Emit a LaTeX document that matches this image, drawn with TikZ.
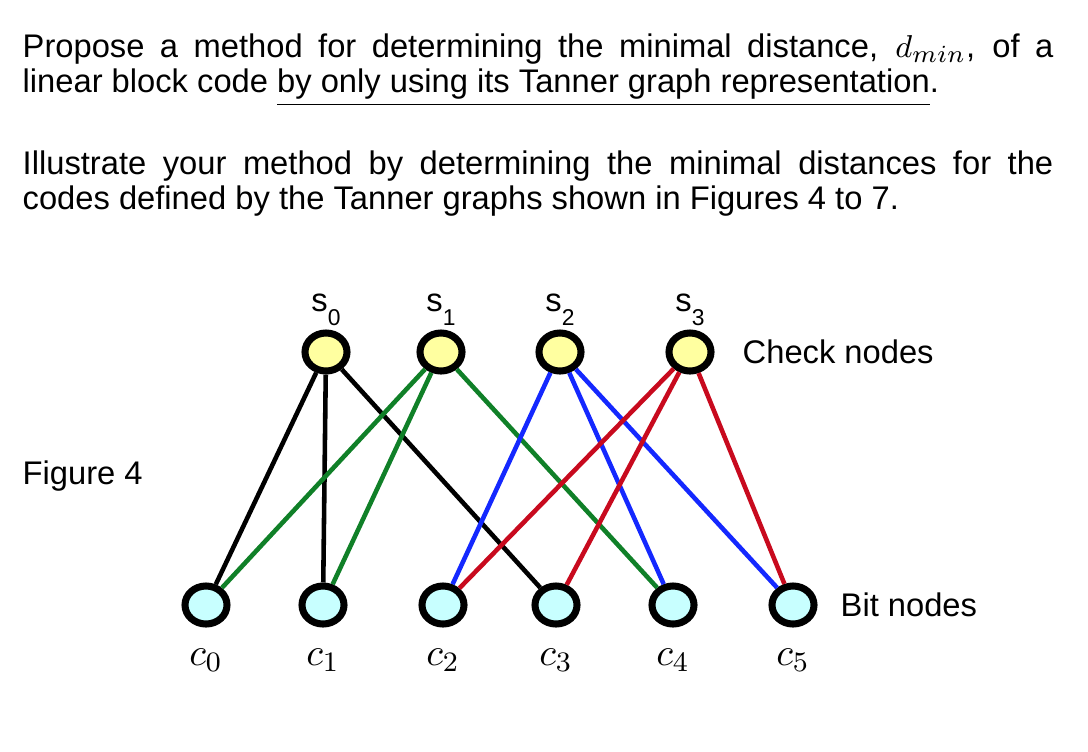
\documentclass[tikz,border=0pt]{standalone}
\usepackage{fontspec}
\setmainfont{Liberation Sans}
\definecolor{chkfill}{RGB}{255,255,160}
\definecolor{bitfill}{RGB}{200,255,255}
\definecolor{egreen}{RGB}{16,128,40}
\definecolor{eblue}{RGB}{20,40,255}
\definecolor{ered}{RGB}{200,10,30}
\usetikzlibrary{shapes.geometric}
\tikzset{
  chk/.style={ellipse, draw, line width=2pt, fill=chkfill, minimum width=0.42cm, minimum height=0.38cm, inner sep=0pt},
  bit/.style={ellipse, draw, line width=2pt, fill=bitfill, minimum width=0.42cm, minimum height=0.38cm, inner sep=0pt},
  edge/.style={line width=1.3pt},
  txt/.style={font=\fontsize{9.3}{10}\selectfont, inner sep=0pt}
}
\begin{document}
\begin{tikzpicture}[x=0.01cm,y=-0.01cm]
    \useasboundingbox (0,0) rectangle (1088,751);
    \node[txt, anchor=north west, align=left] (q1) at (22,33)
      {\makebox[10.3cm][s]{Propose a method for determining the minimal distance, $d_{min}$, of a}\\
       linear block code \underline{by only using its Tanner graph representation}.};
    \node[txt, anchor=north west, align=left] (q2) at (22,150)
      {\makebox[10.3cm][s]{Illustrate your method by determining the minimal distances for the}\\
       codes defined by the Tanner graphs shown in Figures 4 to 7.};
    \node[txt, anchor=west] (fig) at (22,476) {Figure 4};

    % check nodes
    \foreach \i/\x in {0/326,1/441,2/560,3/690} {
      \node[chk] (s\i) at (\x,352) {};
      \node[txt] (ls\i) at (\x,310) {s\raisebox{-4pt}{\fontsize{6.5}{6.5}\selectfont\i}};
    }
    % bit nodes
    \foreach \i/\x in {0/206,1/323,2/443,3/556,4/673,5/793} {
      \node[bit] (c\i) at (\x,605) {};
      \node (lc\i) at (\x,660) {\fontsize{11}{11}\selectfont$c_{\i}$};
    }
    \node[txt, anchor=west] (chklbl) at (742,352) {Check nodes};
    \node[txt, anchor=west] (bitlbl) at (840,605) {Bit nodes};

    % edges
    \foreach \c in {0,1,3} \draw[edge, black] (s0) -- (c\c);
    \foreach \c in {0,1,4} \draw[edge, egreen] (s1) -- (c\c);
    \foreach \c in {2,4,5} \draw[edge, eblue] (s2) -- (c\c);
    \foreach \c in {2,3,5} \draw[edge, ered] (s3) -- (c\c);
\end{tikzpicture}
\end{document}
